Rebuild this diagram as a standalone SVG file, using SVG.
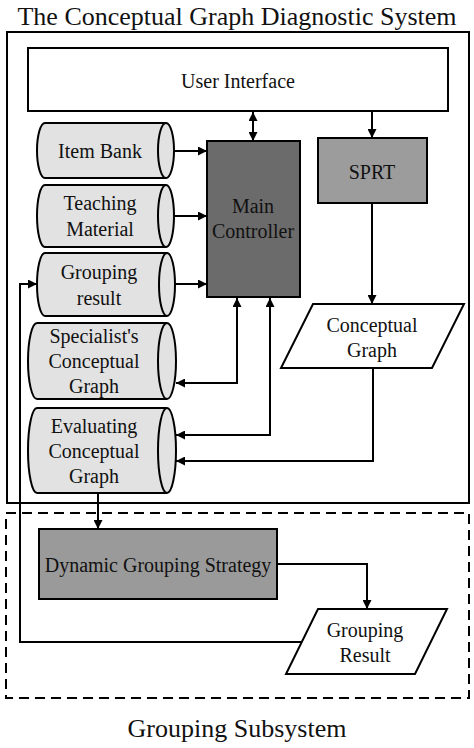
<svg xmlns="http://www.w3.org/2000/svg" width="474" height="748" viewBox="0 0 474 748">
<defs>
<marker id="ah" viewBox="0 0 10 10" refX="10" refY="5" markerWidth="10" markerHeight="9" markerUnits="userSpaceOnUse" orient="auto-start-reverse">
<path d="M0,0 L10,5 L0,10 Z" fill="#000"/>
</marker>
</defs>
<style>
text{font-family:"Liberation Serif","Times New Roman",serif;font-size:20px;fill:#111;text-anchor:middle}
.big{font-size:26px}
.box{stroke:#000;stroke-width:2}
.cyl{fill:#e2e2e2;stroke:#000;stroke-width:2}
.ln{fill:none;stroke:#000;stroke-width:2}
.c{fill:none;stroke:#000;stroke-width:2;marker-end:url(#ah)}
.c2{fill:none;stroke:#000;stroke-width:2;marker-end:url(#ah);marker-start:url(#ah)}
</style>
<rect width="474" height="748" fill="#fff"/>
<text class="big" x="237" y="25">The Conceptual Graph Diagnostic System</text>
<rect id="diagnostic-system" x="7" y="32" width="462" height="471" fill="none" stroke="#000" stroke-width="2"/>
<rect id="grouping-subsystem" x="6" y="513" width="463" height="185" fill="none" stroke="#000" stroke-width="2" stroke-dasharray="10,6"/>
<text class="big" x="237" y="737">Grouping Subsystem</text>

<g id="user-interface"><rect class="box" x="28" y="48" width="420" height="63" fill="#fff"/><text x="238" y="88">User Interface</text></g>

<g id="item-bank"><path class="cyl" d="M45,123 L166,123 A8,27.5 0 0 1 166,178 L45,178 A8,27.5 0 0 1 45,123 Z"/><path class="ln" d="M166,123 A8,27.5 0 0 0 166,178"/><text x="100" y="158">Item Bank</text></g>
<g id="teaching-material"><path class="cyl" d="M45,185 L166,185 A8,31 0 0 1 166,247 L45,247 A8,31 0 0 1 45,185 Z"/><path class="ln" d="M166,185 A8,31 0 0 0 166,247"/><text x="100" y="210">Teaching</text><text x="100" y="236">Material</text></g>
<g id="grouping-result-db"><path class="cyl" d="M45,253 L167,253 A8,31.5 0 0 1 167,316 L45,316 A8,31.5 0 0 1 45,253 Z"/><path class="ln" d="M167,253 A8,31.5 0 0 0 167,316"/><text x="99" y="279">Grouping</text><text x="99" y="305">result</text></g>
<g id="specialists-graph"><path class="cyl" d="M37,323 L167,323 A9,38 0 0 1 167,399 L37,399 A9,38 0 0 1 37,323 Z"/><path class="ln" d="M167,323 A9,38 0 0 0 167,399"/><text x="94" y="343">Specialist's</text><text x="94" y="368">Conceptual</text><text x="94" y="393">Graph</text></g>
<g id="evaluating-graph"><path class="cyl" d="M37,408 L167,408 A9,42.5 0 0 1 167,493 L37,493 A9,42.5 0 0 1 37,408 Z"/><path class="ln" d="M167,408 A9,42.5 0 0 0 167,493"/><text x="94" y="433">Evaluating</text><text x="94" y="458">Conceptual</text><text x="94" y="483">Graph</text></g>

<g id="main-controller"><rect class="box" x="207" y="141" width="93" height="156" fill="#6b6b6b"/><text x="253" y="213">Main</text><text x="253" y="238">Controller</text></g>
<g id="sprt"><rect class="box" x="318" y="138" width="109" height="65" fill="#9c9c9c"/><text x="372" y="179">SPRT</text></g>
<g id="conceptual-graph"><path class="box" d="M313,304 L464,304 L432,368 L281,368 Z" fill="#fff"/><text x="372" y="332">Conceptual</text><text x="372" y="357">Graph</text></g>
<g id="dynamic-grouping"><rect class="box" x="39" y="529" width="238" height="70" fill="#9a9a9a"/><text x="158" y="572">Dynamic Grouping Strategy</text></g>
<g id="grouping-result"><path class="box" d="M318,609 L447,609 L415,674 L286,674 Z" fill="#fff"/><text x="365" y="637">Grouping</text><text x="365" y="662">Result</text></g>

<g id="connectors">
<line class="c2" x1="253" y1="112" x2="253" y2="141"/>
<line class="c" x1="372" y1="112" x2="372" y2="138"/>
<line class="c" x1="174" y1="151" x2="207" y2="151"/>
<line class="c" x1="174" y1="216" x2="207" y2="216"/>
<line class="c" x1="175" y1="284" x2="207" y2="284"/>
<polyline class="c2" points="176,383 237,383 237,298"/>
<polyline class="c2" points="176,435 270,435 270,298"/>
<polyline class="c" points="373,369 373,461 176,461"/>
<line class="c" x1="372" y1="204" x2="372" y2="304"/>
<line class="c" x1="98" y1="494" x2="98" y2="529"/>
<polyline class="c" points="278,564 367,564 367,609"/>
<polyline class="c" points="302,642 20,642 20,284 37,284"/>
</g>
</svg>
